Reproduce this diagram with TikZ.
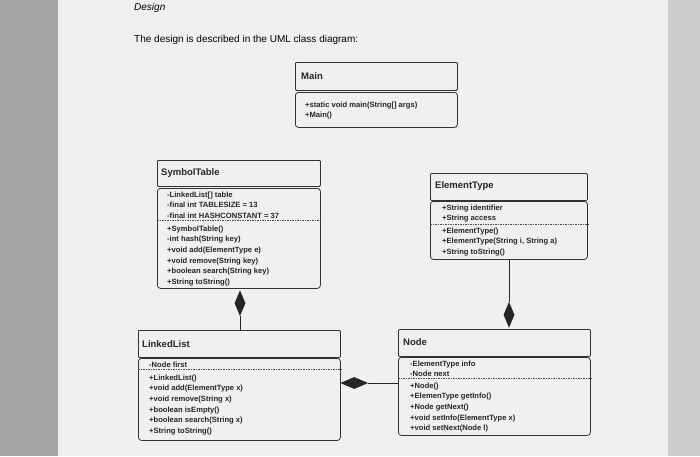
\documentclass[tikz,border=0pt]{standalone}
\usepackage{fontspec}
\setmainfont{Liberation Sans}
\usetikzlibrary{shapes.geometric}
\begin{document}
\begin{tikzpicture}[x=1pt,y=-1pt]
  \tikzstyle{every node}=[inner sep=0pt]
  \tikzstyle{hd}=[draw=black!80,line width=0.8pt,anchor=north west,rounded corners=1pt]
  \tikzstyle{bd}=[draw=black!80,line width=0.8pt,anchor=north west,rounded corners=3pt]
  \tikzstyle{ttl}=[anchor=west,font=\fontsize{9.5}{11}\selectfont\bfseries,text=black!85]
  \tikzstyle{mem}=[anchor=north west,align=left,inner ysep=1.5pt,font=\fontsize{7.6}{10.6}\selectfont\bfseries,text=black!85]
  \tikzstyle{sep}=[dash pattern=on 1.5pt off 1pt,black!70]
  \tikzstyle{agg}=[shape=diamond,fill=black!85,minimum width=11pt,minimum height=26pt]
  \useasboundingbox (0,0) rectangle (700,456);
  \fill[black!35] (0,0) rectangle (700,456);
  \fill[black!6] (58,0) rectangle (668,456);
  \fill[black!20] (668,0) rectangle (700,456);
  \node[anchor=west,font=\fontsize{10}{11}\selectfont\itshape] (design) at (134,8) {Design};
  \node[anchor=west,font=\fontsize{10}{11}\selectfont] (intro) at (134,40) {The design is described in the UML class diagram:};
% Main
  \node[hd,minimum width=162pt,minimum height=28pt] (mainH) at (295,62) {};
  \node[ttl] at (301,76) {Main};
  \node[bd,minimum width=162pt,minimum height=35pt] (mainB) at (295,92) {};
  \node[mem] at (305,100) {+static void main(String[] args)\\+Main()};
% SymbolTable
  \node[hd,minimum width=163pt,minimum height=26pt] (symH) at (157,160) {};
  \node[ttl] at (161,173) {SymbolTable};
  \node[bd,minimum width=163pt,minimum height=100pt] (symB) at (157,188) {};
  \node[mem] (symA) at (167,190) {-LinkedList[] table\\-final int TABLESIZE = 13\\-final int HASHCONSTANT = 37};
  \draw[sep] (symB.west |- symA.south) -- (symB.east |- symA.south);
  \node[mem] (symO) at (167,224) {+SymbolTable()\\-int hash(String key)\\+void add(ElementType e)\\+void remove(String key)\\+boolean search(String key)\\+String toString()};
% ElementType
  \node[hd,minimum width=157pt,minimum height=27pt] (elemH) at (430,173) {};
  \node[ttl] at (435,186) {ElementType};
  \node[bd,minimum width=157pt,minimum height=58pt] (elemB) at (430,201) {};
  \node[mem] (elemA) at (442,203) {+String identifier\\+String access};
  \draw[sep] (elemB.west |- elemA.south) -- (elemB.east |- elemA.south);
  \node[mem] at (442,226) {+ElementType()\\+ElementType(String i, String a)\\+String toString()};
% LinkedList
  \node[hd,minimum width=202pt,minimum height=27pt] (listH) at (138,330) {};
  \node[ttl] at (142,344) {LinkedList};
  \node[bd,minimum width=202pt,minimum height=82pt] (listB) at (138,358) {};
  \node[mem] (listA) at (149,360) {-Node first};
  \draw[sep] (listB.west |- listA.south) -- (listB.east |- listA.south);
  \node[mem] at (149,373) {+LinkedList()\\+void add(ElementType x)\\+void remove(String x)\\+boolean isEmpty()\\+boolean search(String x)\\+String toString()};
% Node
  \node[hd,minimum width=192pt,minimum height=27pt] (nodeH) at (398,329) {};
  \node[ttl] at (403,342) {Node};
  \node[bd,minimum width=192pt,minimum height=78pt] (nodeB) at (398,357) {};
  \node[mem] (nodeA) at (410,359) {-ElementType info\\-Node next};
  \draw[sep] (nodeB.west |- nodeA.south) -- (nodeB.east |- nodeA.south);
  \node[mem] at (410,381) {+Node()\\+ElemenType getInfo()\\+Node getNext()\\+void setInfo(ElementType x)\\+void setNext(Node l)};
% compositions
  \node[agg,anchor=north] (symDia) at (240,290) {};
  \draw[line width=0.9pt,black!85] (symDia.south) -- (listH.north -| symDia.south);
  \node[agg,anchor=south] (elemDia) at (509,328) {};
  \draw[line width=0.9pt,black!85] (elemB.south -| elemDia.north) -- (elemDia.north);
  \node[agg,shape=diamond,minimum width=28pt,minimum height=12pt,anchor=west] (listDia) at (340,383) {};
  \draw[line width=0.9pt,black!85] (listDia.east) -- (nodeB.west |- listDia.east);
\end{tikzpicture}
\end{document}
